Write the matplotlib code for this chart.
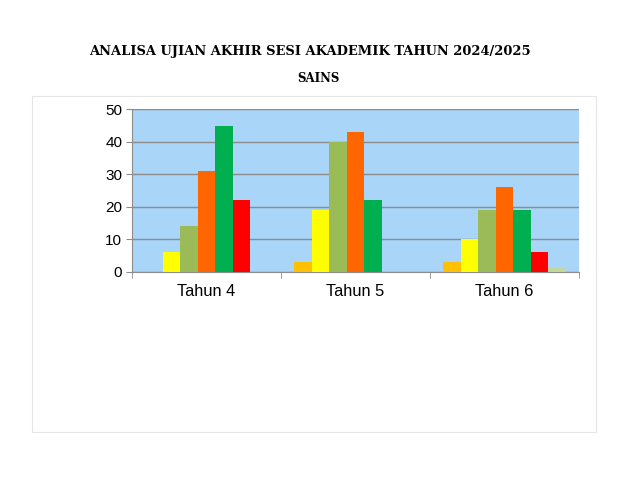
import matplotlib
matplotlib.use("Agg")
import matplotlib.pyplot as plt
import numpy as np
from matplotlib.patches import Rectangle

categories = ["Tahun 4", "Tahun 5", "Tahun 6"]
s_gold = [0, 3, 3]
s_yellow = [6, 19, 10]
s_olive = [14, 40, 19]
s_orange = [31, 43, 26]
s_green = [45, 22, 19]
s_red = [22, 0, 6]
s_pale = [0, 0, 1]
series = [s_gold, s_yellow, s_olive, s_orange, s_green, s_red, s_pale]
colors = ["#FFC000", "#FFFF00", "#9BBB59", "#FF6600", "#00B050", "#FF0000", "#C3D69B"]
yticks = [0, 10, 20, 30, 40, 50]
title1 = "ANALISA UJIAN AKHIR SESI AKADEMIK TAHUN 2024/2025"
title2 = "SAINS"

W, H = 638, 478
fig = plt.figure(figsize=(W/100, H/100), dpi=100)
fig.patch.set_facecolor("white")

# outer chart frame
fig.patches.append(Rectangle((32/W, 1-432/H), (596-32)/W, (432-96)/H,
                             transform=fig.transFigure, fill=False,
                             edgecolor="#e6e6e6", linewidth=0.8))

ax = fig.add_axes([132/W, 1-271.7/H, 447/W, (271.7-109.3)/H])
ax.set_facecolor("#A8D5F8")

x = np.arange(len(categories))
w = 0.117
for i, (vals, c) in enumerate(zip(series, colors)):
    ax.bar(x + (i-3)*w, vals, width=w, color=c, linewidth=0, zorder=3)

ax.set_xlim(-0.5, 2.5)
ax.set_ylim(0, 50)
ax.set_yticks(yticks)
ax.yaxis.grid(True, color="#8c8c8c", linewidth=1.0, zorder=1)
ax.set_axisbelow(True)
for s in ["top", "right"]:
    ax.spines[s].set_visible(False)
ax.spines["left"].set_color("#8c8c8c")
ax.spines["bottom"].set_color("#8c8c8c")
ax.tick_params(axis="y", direction="out", length=4, color="#8c8c8c",
               labelsize=11, pad=3, labelcolor="black")
ax.set_xticks(x)
ax.set_xticklabels(categories, fontsize=11.8, fontfamily="Liberation Sans")
ax.tick_params(axis="x", length=0, pad=9)
ax.set_xticks([-0.5, 0.5, 1.5, 2.5], minor=True)
ax.tick_params(axis="x", which="minor", direction="out", length=4, color="#8c8c8c")
for lab in ax.get_yticklabels():
    lab.set_fontfamily("Liberation Sans")

fig.text(310/W, 1-52/H, title1, ha="center", va="center",
         fontsize=9.4, fontweight="bold", fontfamily="DejaVu Serif")
fig.text(318/W, 1-78/H, title2, ha="center", va="center",
         fontsize=8.5, fontweight="bold", fontfamily="DejaVu Serif")

fig.savefig("out.png", dpi=100)
